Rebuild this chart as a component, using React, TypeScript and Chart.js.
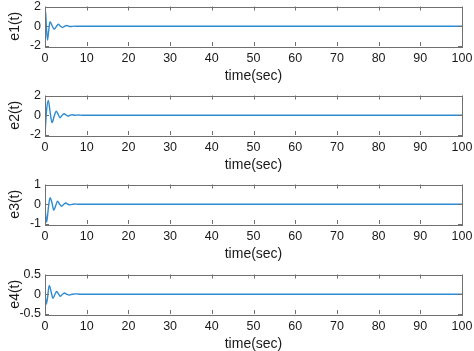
import React, { useEffect, useRef } from 'react';
import { Chart, registerables } from 'chart.js';
Chart.register(...registerables);

const xTicks = [0, 10, 20, 30, 40, 50, 60, 70, 80, 90, 100];
const xTitle = 'time(sec)';

const t1 = [0, 0.15, 0.3, 0.6, 0.9, 1.2, 1.7, 2.2, 2.7, 3.2, 3.7, 4.2, 4.7, 5.2, 5.7, 6.2, 7, 8, 10, 100];
const e1 = [1.2, 1.5, 0.2, -1.4, -0.4, 0.45, 0.05, -0.3, -0.05, 0.2, 0, -0.12, 0, 0.07, 0, -0.03, 0.01, 0, 0, 0];

const t2 = [0, 0.4, 0.8, 1.2, 1.7, 2.2, 2.7, 3.2, 3.6, 4.1, 4.6, 5.1, 5.5, 6.0, 6.5, 7.2, 8, 9, 100];
const e2 = [-1.9, 0.6, 1.5, 0.4, -0.75, -0.1, 0.4, 0.05, -0.25, 0, 0.15, 0, -0.08, 0, 0.05, 0, 0.02, 0, 0];

const t3 = [0, 0.4, 0.8, 1.2, 1.7, 2.1, 2.6, 3.0, 3.5, 4.0, 4.5, 5.0, 5.5, 6.0, 7, 8, 100];
const e3 = [-0.2, -0.9, -0.2, 0.33, 0.05, -0.3, -0.05, 0.15, 0, -0.1, 0, 0.06, 0, -0.03, 0.01, 0, 0];

const t4 = [0, 0.3, 0.6, 1.0, 1.5, 1.9, 2.4, 2.8, 3.3, 3.7, 4.2, 4.7, 5.2, 5.8, 6.5, 7.5, 8.5, 100];
const e4 = [0.05, -0.25, -0.1, 0.22, 0.05, -0.1, 0, 0.07, 0, -0.05, 0, 0.03, 0, -0.02, 0, 0.01, 0, 0];

const yTicks1 = [-2, 0, 2];
const yTicks2 = [-2, 0, 2];
const yTicks3 = [-1, 0, 1];
const yTicks4 = [-0.5, 0, 0.5];

const panels = [
  { label: 'e1(t)', t: t1, v: e1, ticks: yTicks1 },
  { label: 'e2(t)', t: t2, v: e2, ticks: yTicks2 },
  { label: 'e3(t)', t: t3, v: e3, ticks: yTicks3 },
  { label: 'e4(t)', t: t4, v: e4, ticks: yTicks4 },
];

const plotTops = [5, 94, 183, 273];
const PLOT_H = 41;
const PAD_TOP = 10;
const X_AXIS_H = 40;
const CANVAS_W = 500;
const PLOT_LEFT = 45;
const PLOT_RIGHT = 462;
const CANVAS_H = PAD_TOP + PLOT_H + X_AXIS_H;

const TEXT = '#1a1a1a';
const BOX = '#707070';
const LINE = '#2f8bd0';
const FONT = "'Liberation Sans', Arial, sans-serif";

const boxPlugin = {
  id: 'matlabBox',
  afterDraw(chart: any) {
    const { ctx, chartArea } = chart;
    const { left, top, right, bottom } = chartArea;
    const xs = chart.scales.x;
    const ys = chart.scales.y;
    ctx.save();
    ctx.strokeStyle = BOX;
    ctx.lineWidth = 1;
    ctx.strokeRect(Math.round(left) + 0.5, Math.round(top) + 0.5, Math.round(right - left), Math.round(bottom - top));
    const tl = 4;
    ctx.beginPath();
    xs.ticks.forEach((tk: any) => {
      const px = Math.round(xs.getPixelForValue(tk.value)) + 0.5;
      ctx.moveTo(px, bottom);
      ctx.lineTo(px, bottom - tl);
      ctx.moveTo(px, top);
      ctx.lineTo(px, top + tl);
    });
    ys.ticks.forEach((tk: any) => {
      const py = Math.round(ys.getPixelForValue(tk.value)) + 0.5;
      ctx.moveTo(left, py);
      ctx.lineTo(left + tl, py);
      ctx.moveTo(right, py);
      ctx.lineTo(right - tl, py);
    });
    ctx.stroke();
    ctx.restore();
  },
};

function Panel({ idx }: { idx: number }) {
  const ref = useRef<HTMLCanvasElement | null>(null);
  useEffect(() => {
    const p = panels[idx];
    const yMin = p.ticks[0];
    const yMax = p.ticks[p.ticks.length - 1];
    const chart = new Chart(ref.current as HTMLCanvasElement, {
      type: 'line',
      data: {
        datasets: [
          {
            data: p.t.map((t, i) => ({ x: t, y: p.v[i] })),
            borderColor: LINE,
            borderWidth: 1.4,
            pointRadius: 0,
            fill: false,
            cubicInterpolationMode: 'monotone',
          },
        ],
      },
      options: {
        animation: false,
        responsive: false,
        devicePixelRatio: 1,
        layout: { padding: { top: PAD_TOP, left: 0, right: CANVAS_W - PLOT_RIGHT, bottom: 0 } },
        plugins: { legend: { display: false }, tooltip: { enabled: false } },
        scales: {
          x: {
            type: 'linear',
            min: 0,
            max: 100,
            grid: { display: false, drawTicks: false },
            border: { display: false },
            afterBuildTicks: (s: any) => {
              s.ticks = xTicks.map((v) => ({ value: v }));
            },
            afterFit: (s: any) => {
              s.height = X_AXIS_H;
            },
            ticks: {
              padding: 5,
              color: TEXT,
              font: { family: FONT, size: 12.5 },
              maxRotation: 0,
              autoSkip: false,
            },
            title: {
              display: true,
              text: xTitle,
              color: TEXT,
              font: { family: FONT, size: 14 },
              padding: { top: 0, bottom: 1.5 },
            },
          },
          y: {
            type: 'linear',
            min: yMin,
            max: yMax,
            grid: { display: false, drawTicks: false },
            border: { display: false },
            afterBuildTicks: (s: any) => {
              s.ticks = p.ticks.map((v) => ({ value: v }));
            },
            afterFit: (s: any) => {
              s.width = PLOT_LEFT;
            },
            ticks: {
              padding: 4,
              color: TEXT,
              font: { family: FONT, size: 12.5 },
              autoSkip: false,
            },
            title: {
              display: true,
              text: p.label,
              color: TEXT,
              font: { family: FONT, size: 14 },
              padding: { top: 7, bottom: 0 },
            },
          },
        },
      },
      plugins: [boxPlugin],
    } as any);
    return () => chart.destroy();
  }, [idx]);
  return (
    <canvas
      ref={ref}
      width={CANVAS_W}
      height={CANVAS_H}
      style={{
        position: 'absolute',
        left: 0,
        top: plotTops[idx] - PAD_TOP,
        width: CANVAS_W,
        height: CANVAS_H,
      }}
    />
  );
}

export default function App() {
  return (
    <div
      style={{
        position: 'absolute',
        left: 0,
        top: 0,
        width: 474,
        height: 351,
        overflow: 'hidden',
        background: '#fff',
      }}
    >
      {panels.map((_, i) => (
        <Panel key={i} idx={i} />
      ))}
    </div>
  );
}
